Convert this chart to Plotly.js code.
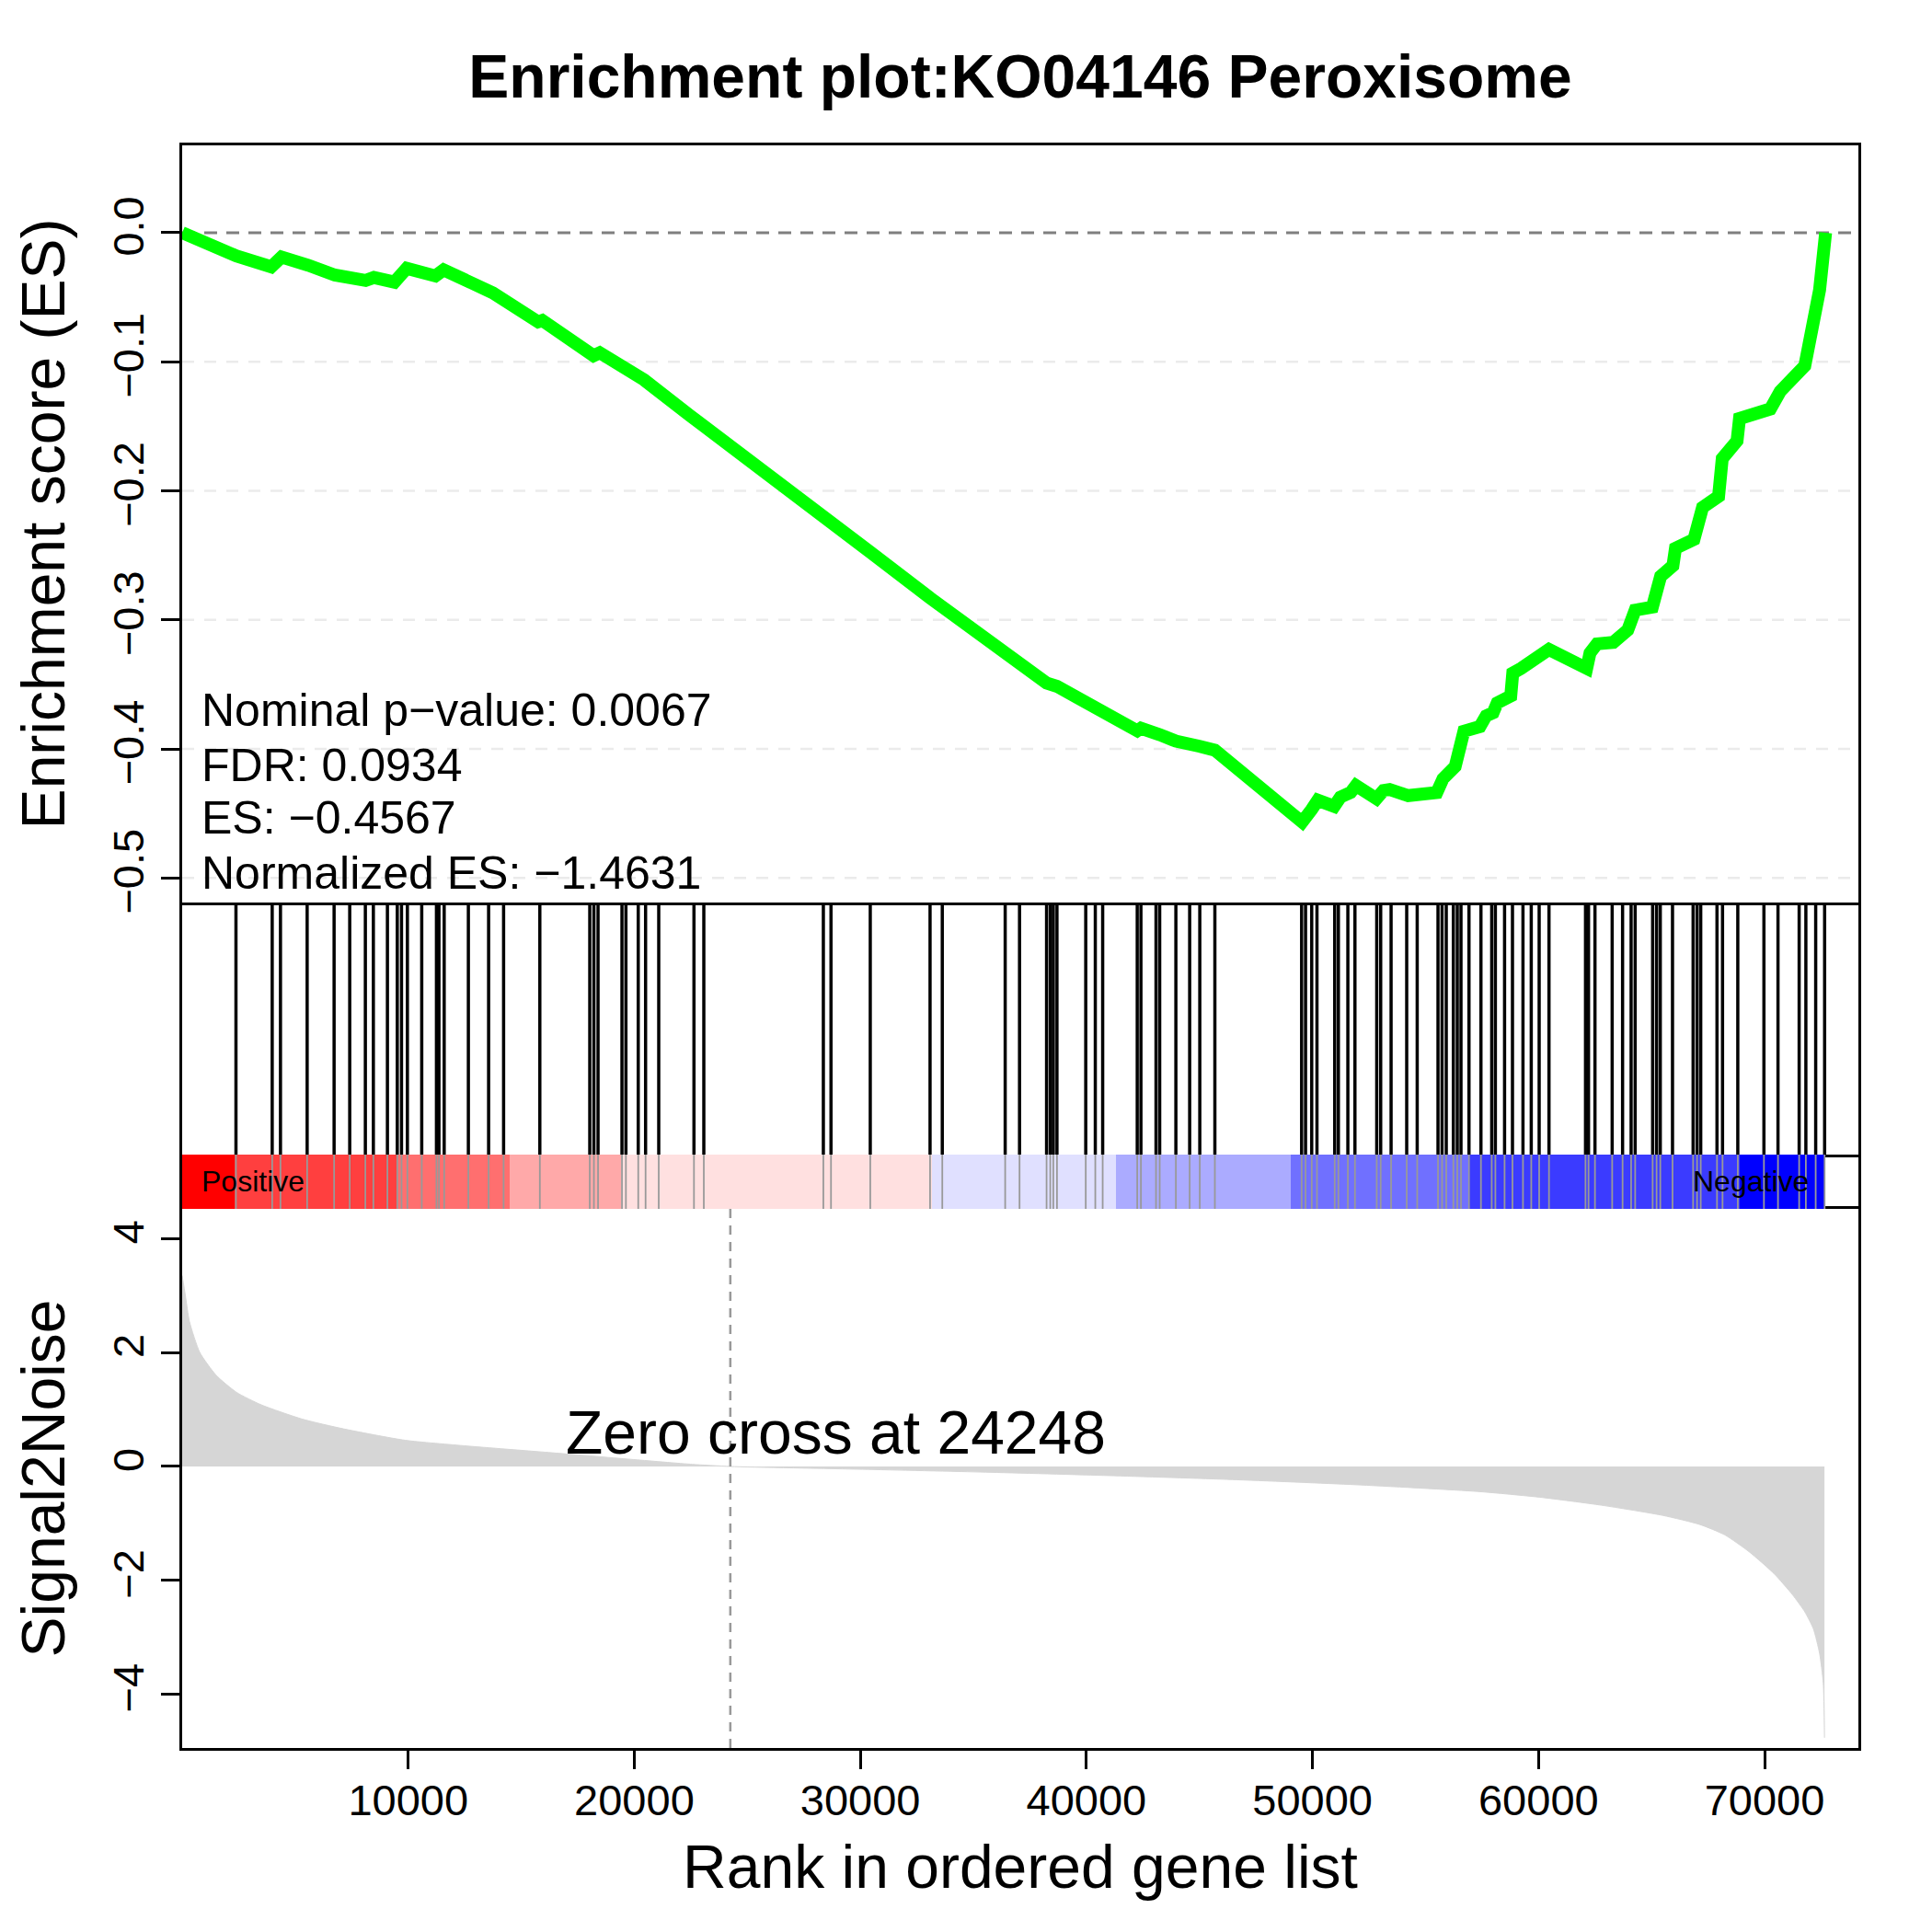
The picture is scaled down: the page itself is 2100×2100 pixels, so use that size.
<!DOCTYPE html>
<html>
<head>
<meta charset="utf-8">
<script src="https://cdn.plot.ly/plotly-3.0.1.min.js"></script>
<style>html,body{margin:0;padding:0;background:#fff;}#chart{width:2100px;height:2100px;}</style>
</head>
<body>
<div id="chart"></div>
<script>
// ---------------- data ----------------
const chartTitle = "Enrichment plot:KO04146 Peroxisome";
const xTickVals = [10000, 20000, 30000, 40000, 50000, 60000, 70000];
const xTickText = ["10000", "20000", "30000", "40000", "50000", "60000", "70000"];
const esTickVals = [-0.5, -0.4, -0.3, -0.2, -0.1, 0.0];
const esTickText = ["\u22120.5", "\u22120.4", "\u22120.3", "\u22120.2", "\u22120.1", "0.0"];
const s2nTickVals = [-4, -2, 0, 2, 4];
const s2nTickText = ["\u22124", "\u22122", "0", "2", "4"];

const hitRanks = [2380, 3983, 4349, 5529, 6721, 7412, 8104, 8458, 9080, 9516, 9703, 9963,
  10598, 11249, 11359, 11591, 12661, 13556, 14219, 15822, 18031, 18214, 18397, 19455, 19630,
  20175, 20500, 21082, 22640, 23076, 28364, 28702, 30439, 33084, 33625, 36407, 37042, 38238,
  38401, 38535, 38698, 39971, 40394, 40720, 42249, 42412, 43079, 43242, 43958, 44568, 45016,
  45683, 49520, 49694, 49967, 50199, 50984, 51147, 51566, 51879, 52843, 53018, 53478, 54169,
  54633, 55553, 55732, 55919, 56232, 56407, 56570, 56924, 57453, 57929, 58091, 58498, 58848,
  59312, 59678, 60028, 60463, 62079, 62212, 62497, 63258, 63718, 64096, 64275, 65048, 65223,
  65386, 65927, 66838, 67013, 67175, 67895, 68140, 68815, 69971, 70593, 71529, 71826, 72261, 72656];

const esRanks = [0, 2396, 3940, 4394, 5574, 6754, 8117, 8480, 9390, 9934, 11204, 11566, 13747,
  14203, 15745, 15928, 18198, 18471, 19561, 20431, 22466, 28364, 30439, 33084, 36407, 37042,
  38238, 38698, 39971, 40720, 42249, 42412, 43079, 43242, 43958, 44568, 45016, 45683, 49544,
  49963, 50236, 50960, 51233, 51689, 51924, 52831, 53141, 53413, 54230, 55500, 55775, 56313,
  56590, 56700, 57408, 57681, 57990, 58173, 58771, 58861, 59227, 60460, 62131, 62277, 62587,
  63311, 63946, 64275, 65036, 65402, 65945, 66058, 66875, 67256, 67965, 68128, 68782, 68891,
  70253, 70689, 71779, 72160, 72433, 72700];
const esScores = [0, -0.018, -0.0264, -0.0188, -0.0252, -0.0328, -0.037, -0.0347, -0.0383, -0.0276,
  -0.0335, -0.0288, -0.0466, -0.0513, -0.0691, -0.068, -0.0953, -0.093, -0.1048, -0.114, -0.1417,
  -0.222, -0.2475, -0.283, -0.327, -0.335, -0.349, -0.3515, -0.363, -0.37, -0.386, -0.384, -0.39,
  -0.389, -0.394, -0.3955, -0.398, -0.401, -0.4567, -0.447, -0.4398, -0.4445, -0.4374, -0.4338,
  -0.4284, -0.4386, -0.4322, -0.4315, -0.4362, -0.4338, -0.4231, -0.4136, -0.3946, -0.3863,
  -0.3827, -0.3744, -0.372, -0.3644, -0.359, -0.3412, -0.3376, -0.3229, -0.3376, -0.3257, -0.3186,
  -0.3174, -0.3079, -0.2925, -0.2901, -0.2663, -0.258, -0.2445, -0.2377, -0.2129, -0.2043, -0.175,
  -0.1613, -0.144, -0.1366, -0.123, -0.1032, -0.0634, -0.0443, 0];

const s2nRanks = [1, 142, 325, 781, 1505, 2408, 3507, 5321, 7135, 9861, 12580, 16217, 19850, 22576,
  24248, 30094, 35543, 40992, 46441, 51890, 57338, 60063, 62787, 65512, 67147, 68237, 69327, 70416,
  71234, 71779, 72160, 72433, 72596, 72650];
const s2nValues = [3.35, 3.0, 2.54, 2.0, 1.6, 1.3, 1.08, 0.83, 0.66, 0.46, 0.36, 0.245, 0.125, 0.037,
  0, -0.05, -0.1, -0.16, -0.23, -0.32, -0.44, -0.54, -0.68, -0.86, -1.02, -1.2, -1.5, -1.88,
  -2.25, -2.55, -2.85, -3.28, -3.8, -4.76];

const zeroCross = 24248;
const cbEdges = [0, 2323, 9497, 14491, 19398, 33181, 41302, 49056, 56899, 68885, 72700];
const cbColors = ["#FF0000", "#FF3F3F", "#FF6F6F", "#FFA9A9", "#FFE0E0",
                  "#E0E0FF", "#ABABFF", "#7070FF", "#3B3BFF", "#0000FF"];
const statLines = ["Nominal p\u2212value: 0.0067", "FDR: 0.0934", "ES: \u22120.4567", "Normalized ES: \u22121.4631"];
const statY = [-0.370, -0.4125, -0.4535, -0.4965];

// ---------------- build ----------------
const FONT = "Liberation Sans, Arial, Helvetica, sans-serif";
const xRange = [0, 74150];

function segs(xs, y0, y1) {
  const X = [], Y = [];
  xs.forEach(h => { X.push(h, h, null); Y.push(y0, y1, null); });
  return {X, Y};
}
const hitSeg = segs(hitRanks, 0, 1);

const cbX = [], cbW = [];
for (let i = 0; i < cbColors.length; i++) {
  cbX.push((cbEdges[i] + cbEdges[i + 1]) / 2);
  cbW.push(cbEdges[i + 1] - cbEdges[i]);
}

const traces = [
  { // signal2noise area
    type: "scatter", mode: "lines", x: s2nRanks, y: s2nValues,
    xaxis: "x", yaxis: "y3", fill: "tozeroy", fillcolor: "#D6D6D6",
    line: {color: "#D6D6D6", width: 1, shape: "spline", smoothing: 0.6}, hoverinfo: "skip", showlegend: false
  },
  { // ES curve
    type: "scatter", mode: "lines", x: esRanks, y: esScores,
    xaxis: "x2", yaxis: "y", line: {color: "#00FF00", width: 14, shape: "linear"},
    showlegend: false
  },
  { // hit lines
    type: "scatter", mode: "lines", x: hitSeg.X, y: hitSeg.Y,
    xaxis: "x3", yaxis: "y2", line: {color: "#000000", width: 3.5}, showlegend: false, hoverinfo: "skip"
  },
  { // colour bar
    type: "bar", x: cbX, y: cbColors.map(() => 1), width: cbW, base: 0,
    xaxis: "x4", yaxis: "y4", marker: {color: cbColors, line: {width: 0}},
    showlegend: false, hoverinfo: "skip"
  },
  { // hit ticks inside colour bar
    type: "scatter", mode: "lines", x: hitSeg.X, y: hitSeg.Y,
    xaxis: "x4", yaxis: "y4", line: {color: "#999999", width: 1.8}, showlegend: false, hoverinfo: "skip"
  }
];

const base = {linecolor: "#000", linewidth: 3, zeroline: false, showgrid: false};
const tickFont = {family: FONT, size: 47, color: "#000"};

// light dashed grid for the ES panel (all ticks except zero), then the darker zero line on top
const gridShapes = esTickVals.filter(v => v !== 0).map(v => ({
  type: "line", xref: "x2 domain", yref: "y", x0: 0, x1: 1, y0: v, y1: v,
  line: {color: "#EBEBEB", width: 2.5, dash: "13px,11px"}, layer: "below"
}));

const layout = {
  width: 2100, height: 2100,
  margin: {l: 198, r: 80, t: 158, b: 200, pad: 0},
  paper_bgcolor: "#fff", plot_bgcolor: "#fff",
  font: {family: FONT, color: "#000"},
  showlegend: false,
  bargap: 0,
  title: {text: "<b>" + chartTitle + "</b>", font: {family: FONT, size: 66, color: "#000"},
          x: 0.5, xref: "paper", xanchor: "center", y: 1 - 83 / 2100, yref: "container", yanchor: "middle"},
  xaxis: Object.assign({}, base, {domain: [0, 1], range: xRange, anchor: "y3", showline: true, mirror: true,
          tickmode: "array", tickvals: xTickVals, ticktext: xTickText, ticks: "outside", ticklen: 20, tickwidth: 3,
          tickcolor: "#000", tickfont: tickFont, ticklabelstandoff: -6,
          title: {text: "Rank in ordered gene list", font: {family: FONT, size: 66, color: "#000"}, standoff: 24}}),
  xaxis2: Object.assign({}, base, {domain: [0, 1], range: xRange, anchor: "y", showline: true, mirror: true,
          showticklabels: false, ticks: ""}),
  xaxis3: Object.assign({}, base, {domain: [0, 1], range: xRange, anchor: "y2", showline: true, mirror: false,
          showticklabels: false, ticks: ""}),
  xaxis4: Object.assign({}, base, {domain: [0, 1], range: xRange, anchor: "y4", showline: false,
          showticklabels: false, ticks: ""}),
  yaxis: Object.assign({}, base, {domain: [0.5276, 1], range: [-0.519, 0.0677], anchor: "x2",
          showline: true, mirror: true,
          tickmode: "array", tickvals: esTickVals, ticktext: esTickText, tickangle: -90,
          ticks: "outside", ticklen: 20, tickwidth: 3, tickcolor: "#000", tickfont: tickFont,
          title: {text: "Enrichment score (ES)", font: {family: FONT, size: 66, color: "#000"}, standoff: 22}}),
  yaxis2: Object.assign({}, base, {domain: [0.3703, 0.5276], range: [0, 1], anchor: "x3",
          showline: true, mirror: true, showticklabels: false, ticks: ""}),
  yaxis4: Object.assign({}, base, {domain: [0.3364, 0.3703], range: [0, 1], anchor: "x4",
          showline: true, mirror: true, showticklabels: false, ticks: ""}),
  yaxis3: Object.assign({}, base, {domain: [0, 0.3364], range: [-4.94, 4.52], anchor: "x",
          showline: true, mirror: true,
          tickmode: "array", tickvals: s2nTickVals, ticktext: s2nTickText, tickangle: -90,
          ticks: "outside", ticklen: 20, tickwidth: 3, tickcolor: "#000", tickfont: tickFont,
          title: {text: "Signal2Noise", font: {family: FONT, size: 66, color: "#000"}, standoff: 22}}),
  shapes: gridShapes.concat([
    {type: "line", xref: "x2 domain", yref: "y", x0: 0, x1: 1, y0: 0, y1: 0,
     line: {color: "#7F7F7F", width: 3, dash: "14px,10px"}, layer: "below"},
    {type: "line", xref: "x", yref: "y3 domain", x0: zeroCross, x1: zeroCross, y0: 0, y1: 1,
     line: {color: "#999999", width: 2.5, dash: "10px,8px"}, layer: "above"}
  ]),
  annotations: statLines.map((t, i) => ({
    text: t, xref: "x2 domain", yref: "y", x: 0.0105, y: statY[i], xanchor: "left", yanchor: "middle",
    showarrow: false, font: {family: FONT, size: 50, color: "#000"}
  })).concat([
    {text: "Zero cross at " + zeroCross, xref: "x", yref: "y3", x: 28934, y: 0.6, xanchor: "center", yanchor: "middle",
     showarrow: false, font: {family: FONT, size: 66, color: "#000"}},
    {text: "Positive", xref: "x4 domain", yref: "y4", x: 0.0105, y: 0.5, xanchor: "left", yanchor: "middle",
     showarrow: false, font: {family: FONT, size: 32, color: "#000"}},
    {text: "Negative", xref: "x4", yref: "y4", x: 72030, y: 0.5, xanchor: "right", yanchor: "middle",
     showarrow: false, font: {family: FONT, size: 32, color: "#000"}}
  ])
};

Plotly.newPlot("chart", traces, layout, {displayModeBar: false, staticPlot: true});
</script>
</body>
</html>
